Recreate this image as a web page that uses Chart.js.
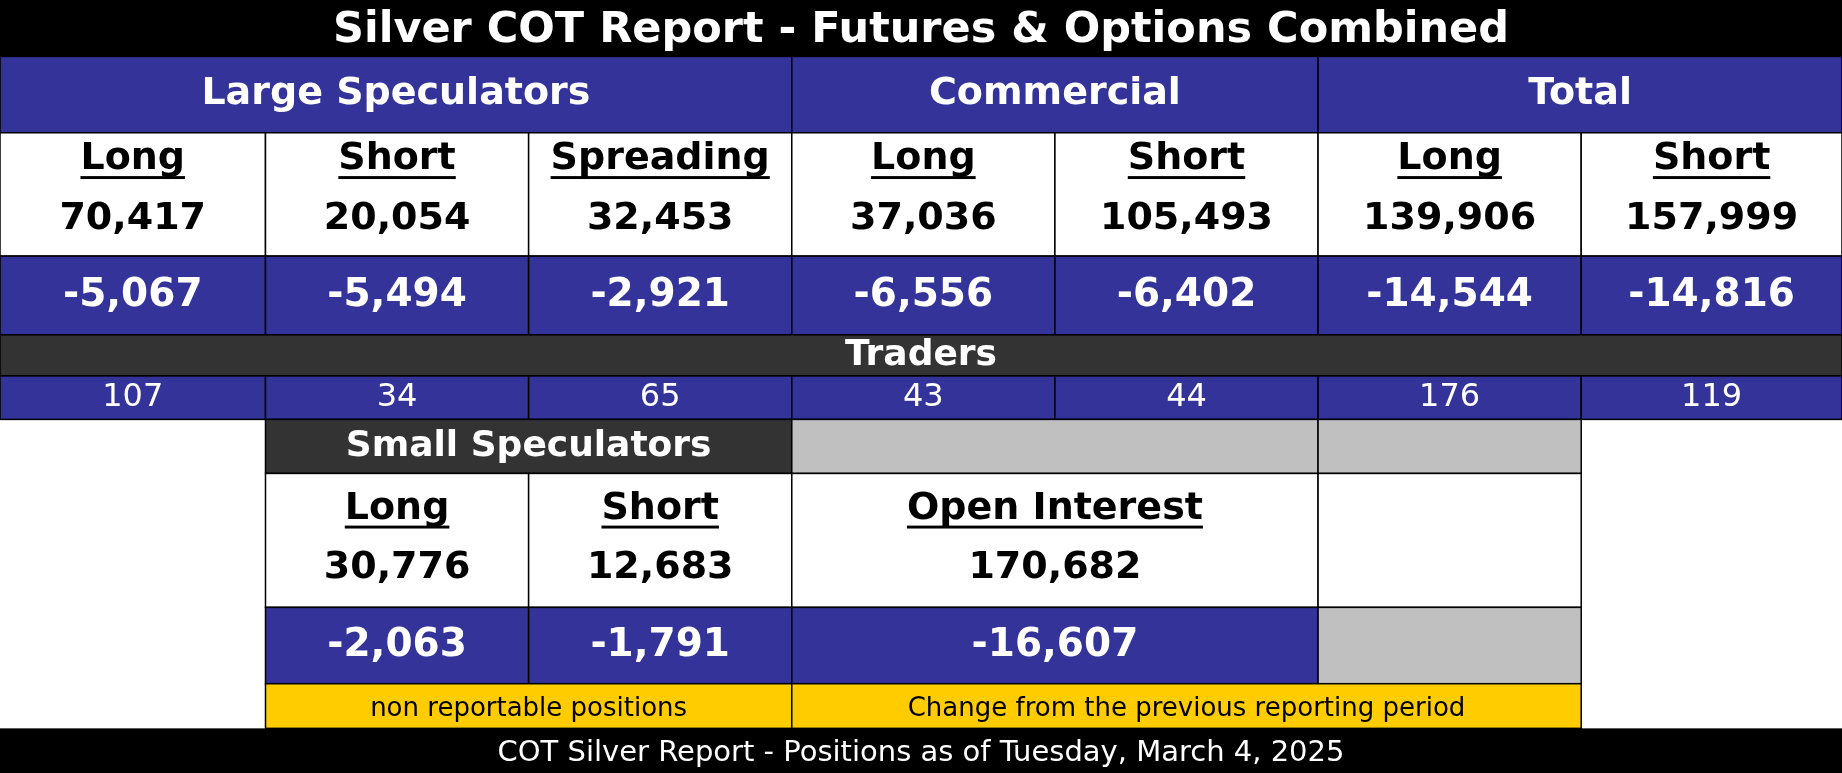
<!DOCTYPE html>
<html><head><meta charset="utf-8">
<script src="https://cdn.jsdelivr.net/npm/chart.js@4/dist/chart.umd.min.js"></script>
<style>html,body{margin:0;padding:0;background:#fff}#w{width:1842px;height:773px}</style>
</head><body><div id="w"><canvas id="c"></canvas></div>
<script>
const title = "Silver COT Report - Futures & Options Combined";
const groups = ["Large Speculators", "Commercial", "Total"];
const categories = ["Long", "Short", "Spreading", "Long", "Short", "Long", "Short"];
const positions = ["70,417", "20,054", "32,453", "37,036", "105,493", "139,906", "157,999"];
const changes = ["-5,067", "-5,494", "-2,921", "-6,556", "-6,402", "-14,544", "-14,816"];
const tradersTitle = "Traders";
const traders = ["107", "34", "65", "43", "44", "176", "119"];
const smallTitle = "Small Speculators";
const smallCategories = ["Long", "Short"];
const smallPositions = ["30,776", "12,683"];
const smallChanges = ["-2,063", "-1,791"];
const oiLabel = "Open Interest";
const oiValue = "170,682";
const oiChange = "-16,607";
const notes = ["non reportable positions", "Change from the previous reporting period"];
const footer = "COT Silver Report - Positions as of Tuesday, March 4, 2025";

const BLUE="#333399", DARK="#333333", LGRAY="#C0C0C0", YEL="#FFCC00";
const colX=[0,226,450,674,898,1122,1346,1568];
const rowY=[0,48,113,218,285,320,357,403,517,582,620,658];
const FF="'DejaVu Sans', Verdana, sans-serif";

const cells=[];
function cell(c0,c1,r0,r1,fill,texts,border=true){cells.push({c0,c1,r0,r1,fill,texts,border});}
cell(0,7,0,1,"#000",[{t:title,size:37,bold:true,color:"#fff",dy:2}],false);
[[0,3],[3,5],[5,7]].forEach((g,i)=>cell(g[0],g[1],1,2,BLUE,[{t:groups[i],size:32,bold:true,color:"#fff"}]));
categories.forEach((c,i)=>cell(i,i+1,2,3,"#fff",[{t:c,size:32,bold:true,color:"#000",u:true,dy:-30},{t:positions[i],size:32,bold:true,color:"#000",dy:21}]));
changes.forEach((c,i)=>cell(i,i+1,3,4,BLUE,[{t:c,size:33,bold:true,color:"#fff"}]));
cell(0,7,4,5,DARK,[{t:tradersTitle,size:31,bold:true,color:"#fff"}]);
traders.forEach((c,i)=>cell(i,i+1,5,6,BLUE,[{t:c,size:27,bold:false,color:"#fff"}]));
cell(1,3,6,7,DARK,[{t:smallTitle,size:31,bold:true,color:"#fff"}]);
cell(3,5,6,7,LGRAY,[]);
cell(5,6,6,7,LGRAY,[]);
smallCategories.forEach((c,i)=>cell(i+1,i+2,7,8,"#fff",[{t:c,size:32,bold:true,color:"#000",u:true,dy:-27},{t:smallPositions[i],size:32,bold:true,color:"#000",dy:24}]));
cell(3,5,7,8,"#fff",[{t:oiLabel,size:32,bold:true,color:"#000",u:true,dy:-27},{t:oiValue,size:32,bold:true,color:"#000",dy:24}]);
cell(5,6,7,8,"#fff",[]);
smallChanges.forEach((c,i)=>cell(i+1,i+2,8,9,BLUE,[{t:c,size:33,bold:true,color:"#fff"}]));
cell(3,5,8,9,BLUE,[{t:oiChange,size:33,bold:true,color:"#fff"}]);
cell(5,6,8,9,LGRAY,[]);
cell(1,3,9,10,YEL,[{t:notes[0],size:22,bold:false,color:"#000",dy:3}]);
cell(3,6,9,10,YEL,[{t:notes[1],size:22,bold:false,color:"#000",dy:3}]);
cell(0,7,10,11,"#000",[{t:footer,size:25,bold:false,color:"#fff",dy:2}],false);

const tablePlugin={id:"table",afterDraw(chart){
  const ctx=chart.ctx, xs=chart.scales.x, ys=chart.scales.y;
  const k=xs.getPixelForValue(1)-xs.getPixelForValue(0);
  ctx.save();
  cells.forEach(c=>{
    const x0=xs.getPixelForValue(colX[c.c0]), x1=xs.getPixelForValue(colX[c.c1]);
    const y0=ys.getPixelForValue(rowY[c.r0]), y1=ys.getPixelForValue(rowY[c.r1]);
    ctx.fillStyle=c.fill; ctx.fillRect(x0,y0,x1-x0,y1-y0);
    if(c.border){ctx.strokeStyle="#000";ctx.lineWidth=1.5;ctx.strokeRect(x0,y0,x1-x0,y1-y0);}
    const cx=(x0+x1)/2, cy=(y0+y1)/2;
    c.texts.forEach(t=>{
      ctx.font=(t.bold?"bold ":"")+Math.round(t.size*k)+"px "+FF;
      ctx.fillStyle=t.color; ctx.textAlign="center"; ctx.textBaseline="middle";
      const ty=cy+(t.dy||0)*k;
      ctx.fillText(t.t,cx,ty);
      if(t.u){const w=ctx.measureText(t.t).width;ctx.fillRect(cx-w/2,ty+t.size*0.45*k,w,2.5*k);}
    });
  });
  ctx.restore();
}};

new Chart(document.getElementById("c"),{
  type:"scatter",
  data:{datasets:[{data:[]}]},
  options:{responsive:true,maintainAspectRatio:false,animation:false,
    layout:{padding:0},
    plugins:{legend:{display:false},tooltip:{enabled:false}},
    scales:{x:{type:"linear",min:0,max:1568,display:false},
            y:{type:"linear",min:0,max:658,reverse:true,display:false}}},
  plugins:[tablePlugin]
});
</script></body></html>
